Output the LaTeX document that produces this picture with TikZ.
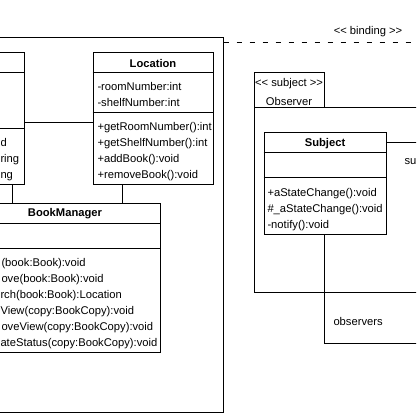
\documentclass[tikz,border=0pt]{standalone}
\usepackage{fontspec}
\setmainfont{Liberation Sans}
\usetikzlibrary{fit}
\begin{document}
\begin{tikzpicture}[x=0.75pt,y=-0.75pt,line width=0.75pt,
  every node/.style={font=\fontsize{8.4}{12}\selectfont,inner sep=0pt},
  umlbox/.style={draw,rectangle,inner sep=0pt},
  row/.style={anchor=base west},
  ttl/.style={anchor=center,font=\fontsize{8.4}{12}\selectfont\bfseries},
  bindline/.style={dash pattern=on 3.75pt off 6pt}]
\useasboundingbox (0,0) rectangle (416,416);
\clip (0,0) rectangle (416,416);
% frame
\node[umlbox,fit={(-10,38)(223,412)}] (frame) {};
% left class
\node[umlbox,fit={(-60,53)(24,185)}] (leftcls) {};
\draw (leftcls.west |- 0,73) -- (leftcls.east |- 0,73);
\draw (leftcls.west |- 0,129) -- (leftcls.east |- 0,129);
\node[row] (lc1) at (0,147) {d};
\node[row] (lc2) at (0,163) {ring};
\node[row] (lc3) at (0,179) {ng};
% Location
\node[umlbox,fit={(93,53)(213,185)}] (loc) {};
\draw (loc.west |- 0,73) -- (loc.east |- 0,73);
\draw (loc.west |- 0,113) -- (loc.east |- 0,113);
\node[ttl] (loct) at (153,64) {Location};
\node[row] (loca1) at (97,91) {-roomNumber:int};
\node[row] (loca2) at (97,107) {-shelfNumber:int};
\node[row] (locm1) at (97,131) {+getRoomNumber():int};
\node[row] (locm2) at (97,147) {+getShelfNumber():int};
\node[row] (locm3) at (97,163) {+addBook():void};
\node[row] (locm4) at (97,179) {+removeBook():void};
% BookManager
\node[umlbox,fit={(-30,203)(160,352)}] (bm) {};
\draw (bm.west |- 0,223) -- (bm.east |- 0,223);
\draw (bm.west |- 0,248) -- (bm.east |- 0,248);
\node[ttl] (bmt) at (65,214) {BookManager};
\node[row] (bm1) at (1,266) {(book:Book):void};
\node[row] (bm2) at (1,282) {ove(book:Book):void};
\node[row] (bm3) at (0,298) {rch(book:Book):Location};
\node[row] (bm4) at (0,314) {View(copy:BookCopy):void};
\node[row] (bm5) at (1,330) {oveView(copy:BookCopy):void};
\node[row] (bm6) at (0,346) {ateStatus(copy:BookCopy):void};
% connectors on the left
\draw (leftcls.east |- 0,123) -- (loc.west |- 0,123);
\draw (leftcls.south -| 12,0) -- (bm.north -| 12,0);
\draw (loc.south -| 122,0) -- (bm.north -| 122,0);
% binding
\coordinate (bindend) at (418,43);
\draw[bindline] (frame.east |- 0,43) -- (bindend);
\node[anchor=center] (bind) at (368,32) {<\kern0pt< binding >\kern0pt>};
% Observer package
\node[umlbox,fit={(254,73)(324,108)}] (pkgtab) {};
\node[umlbox,fit={(254,108)(430,292)}] (pkg) {};
\node[anchor=center] (pkgst) at (289,84) {<\kern0pt< subject >\kern0pt>};
\node[anchor=center] (pkgname) at (289,101) {Observer};
% Subject
\node[umlbox,fill=white,fit={(264,133)(386,234)}] (subj) {};
\draw (subj.west |- 0,153) -- (subj.east |- 0,153);
\draw (subj.west |- 0,178) -- (subj.east |- 0,178);
\node[ttl] (subjt) at (325,144) {Subject};
\node[row] (sm1) at (267,196) {+aStateChange():void};
\node[row] (sm2) at (267,212) {\#\_aStateChange():void};
\node[row] (sm3) at (267,228) {-notify():void};
\coordinate (suend) at (420,143);
\draw (subj.east |- 0,143) -- (suend);
\node[row] (su) at (404,165) {su};
\coordinate (obsend) at (420,343);
\draw (subj.south -| 324,0) |- (obsend);
\node[row] (obs) at (333,325) {observers};
\end{tikzpicture}
\end{document}
